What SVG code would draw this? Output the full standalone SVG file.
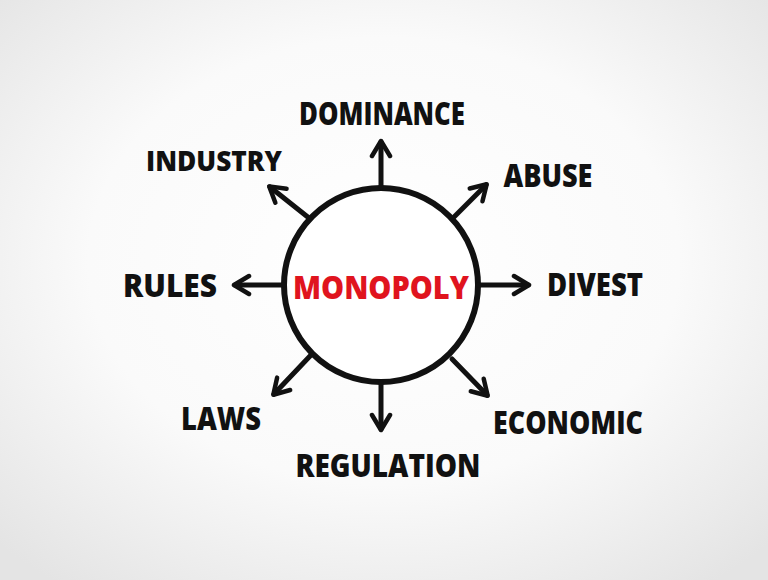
<svg xmlns="http://www.w3.org/2000/svg" width="768" height="580" viewBox="0 0 768 580">
<defs>
<radialGradient id="bg" cx="50%" cy="45%" r="70%">
<stop offset="0" stop-color="#ffffff"/>
<stop offset="0.55" stop-color="#fafafa"/>
<stop offset="1" stop-color="#e4e4e4"/>
</radialGradient>
<marker id="ah" viewBox="0 0 24 24" refX="17" refY="12" markerWidth="24" markerHeight="24" markerUnits="userSpaceOnUse" orient="auto">
<path d="M3 3 L18 12 L3 21" fill="none" stroke="#111" stroke-width="4.5" stroke-linecap="round" stroke-linejoin="round"/>
</marker>
<style>
.lbl{font-family:"Open Sans","DejaVu Sans",sans-serif;font-weight:800;font-size:31px;fill:#111;text-anchor:middle;dominant-baseline:central}
.arr{stroke:#111;stroke-width:5;fill:none;stroke-linecap:round;marker-end:url(#ah)}
</style>
</defs>
<rect width="768" height="580" fill="url(#bg)"/>
<g id="center">
<circle cx="381" cy="285" r="97" fill="#ffffff" stroke="#111" stroke-width="6"/>
<text class="lbl" x="381" y="287" style="fill:#e0141e" textLength="176" lengthAdjust="spacingAndGlyphs">MONOPOLY</text>
</g>
<g id="connectors">
<line class="arr" x1="381" y1="187" x2="381" y2="142"/>
<line class="arr" x1="309" y1="218" x2="270" y2="187"/>
<line class="arr" x1="453" y1="218" x2="486" y2="185"/>
<line class="arr" x1="284" y1="285" x2="235" y2="285"/>
<line class="arr" x1="478" y1="285" x2="528" y2="285"/>
<line class="arr" x1="311" y1="355" x2="274" y2="394"/>
<line class="arr" x1="381" y1="383" x2="381" y2="429"/>
<line class="arr" x1="452" y1="359" x2="487" y2="395"/>
</g>
<g id="dominance"><text class="lbl" x="382" y="113" textLength="166" lengthAdjust="spacingAndGlyphs">DOMINANCE</text></g>
<g id="industry"><text class="lbl" x="214" y="160" style="font-size:28px" textLength="136" lengthAdjust="spacingAndGlyphs">INDUSTRY</text></g>
<g id="abuse"><text class="lbl" x="548" y="175" textLength="89" lengthAdjust="spacingAndGlyphs">ABUSE</text></g>
<g id="rules"><text class="lbl" x="170" y="285" textLength="94" lengthAdjust="spacingAndGlyphs">RULES</text></g>
<g id="divest"><text class="lbl" x="595" y="284" textLength="96" lengthAdjust="spacingAndGlyphs">DIVEST</text></g>
<g id="laws"><text class="lbl" x="221" y="418" textLength="80" lengthAdjust="spacingAndGlyphs">LAWS</text></g>
<g id="regulation"><text class="lbl" x="388" y="465" textLength="185" lengthAdjust="spacingAndGlyphs">REGULATION</text></g>
<g id="economic"><text class="lbl" x="568" y="422" textLength="150" lengthAdjust="spacingAndGlyphs">ECONOMIC</text></g>
</svg>
